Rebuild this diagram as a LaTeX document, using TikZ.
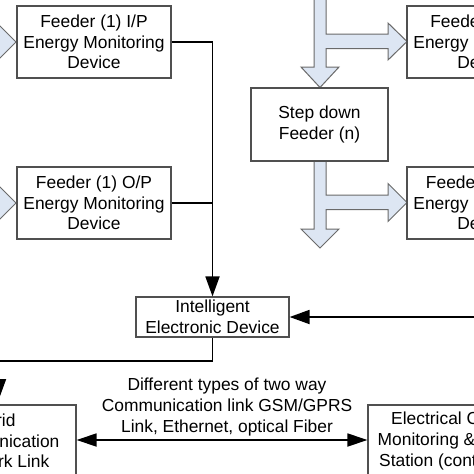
\documentclass[tikz,border=0pt]{standalone}
\usepackage{fontspec}
\setmainfont{Liberation Sans}
\usetikzlibrary{arrows.meta}
\definecolor{blockfill}{HTML}{DDE6F3}
\definecolor{blockline}{HTML}{6A6A6A}
\definecolor{boxline}{HTML}{505050}
\tikzset{
  box/.style={draw=boxline, line width=1.2pt, fill=white, inner sep=0pt, align=center,
    font=\fontsize{17.4}{20.6}\selectfont},
  label/.style={inner sep=0pt, align=center, font=\fontsize{17.4}{20.6}\selectfont},
  conn/.style={line width=1.8pt, -{Triangle[length=20pt,width=14pt]}},
  biconn/.style={line width=1.8pt, {Triangle[length=20pt,width=13pt]}-{Triangle[length=20pt,width=13pt]}},
  plain/.style={line width=1.8pt},
  blockarrow/.style={draw=blockline, fill=blockfill, line width=1pt, line join=miter}
}
\begin{document}
\begin{tikzpicture}[x=1pt,y=-1pt]
\useasboundingbox (0,0) rectangle (474,474);
\clip (0,0) rectangle (474,474);
\fill[white] (0,0) rectangle (474,474);

% block arrows (left, into feeder boxes)
\draw[blockarrow] (-30,35) -- (-3,35) -- (-3,23) -- (16,42) -- (-3,61) -- (-3,49) -- (-30,49) -- cycle;
\draw[blockarrow] (-30,196) -- (-3,196) -- (-3,184) -- (16,203) -- (-3,222) -- (-3,210) -- (-30,210) -- cycle;

% block arrows (right column)
\draw[blockarrow] (314,-10) -- (314,67) -- (301,67) -- (320,87.5) -- (339,67) -- (326,67) -- (326,48.5)
  -- (388,48.5) -- (388,60) -- (407,41.5) -- (388,23) -- (388,34) -- (326,34) -- (326,-10);
\draw[blockarrow] (314,161) -- (314,229) -- (301,229) -- (320,248) -- (339,229) -- (326,229) -- (326,209.5)
  -- (388,209.5) -- (388,221.5) -- (407,202.5) -- (388,183.5) -- (388,195) -- (326,195) -- (326,161);

% boxes
\node[box, minimum width=154pt, minimum height=72pt] (ipL) at (94,42) {Feeder (1) I/P\\Energy Monitoring\\Device};
\node[box, minimum width=154pt, minimum height=72pt] (opL) at (94,203) {Feeder (1) O/P\\Energy Monitoring\\Device};
\node[box, minimum width=154pt, minimum height=72pt] (ipR) at (484,42) {Feeder (n) I/P\\Energy Monitoring\\Device};
\node[box, minimum width=154pt, minimum height=72pt] (opR) at (484,203) {Feeder (n) O/P\\Energy Monitoring\\Device};
\node[box, minimum width=137pt, minimum height=73pt] (step) at (319.5,124.5) {Step down\\Feeder (n)};
\node[box, minimum width=153pt, minimum height=40pt] (ied) at (212.5,317) {Intelligent\\Electronic Device};
\node[box, minimum width=154pt, minimum height=72pt] (gcl) at (-1,441) {Grid\\Communication\\Network Link};
\node[box, minimum width=178pt, minimum height=72pt] (ecm) at (457,441) {Electrical Control\\Monitoring \& Control\\Station (control unit)};

% link label
\node[label] (lnk) at (227,407) {Different types of two way\\Communication link GSM/GPRS\\Link, Ethernet, optical Fiber};

% connectors
\coordinate (rin) at (480,317);
\coordinate (turn) at (-1,361);
\coordinate (dtip) at (-1,399);
\draw[conn] (ipL.east) -| (ied.north);
\draw[plain] (opL.east) -- (opL.east -| ied.north);
\draw[conn] (rin) -- (ied.east);
\draw[conn] (ied.south) |- (turn) -- (dtip);
\draw[biconn] (gcl.east |- 0,440) -- (ecm.west |- 0,440);
\end{tikzpicture}
\end{document}
